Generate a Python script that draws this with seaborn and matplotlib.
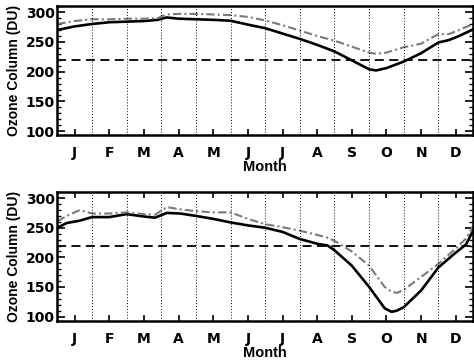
import matplotlib
matplotlib.use("Agg")
import matplotlib.pyplot as plt
import seaborn as sns
from matplotlib.ticker import MultipleLocator

# month letters (ticks sit at month centres)
months = ["J", "F", "M", "A", "M", "J", "J", "A", "S", "O", "N", "D"]

# upper panel (x in months since 1 Jan)
top_x = [0, 0.5, 1, 1.5, 2, 2.5, 2.9, 3.15, 3.5, 4, 4.5, 5, 5.5, 6, 6.5,
         7, 7.5, 8, 8.5, 9, 9.2, 9.5, 10, 10.5, 11, 11.3, 11.6, 12]
top_solid = [270, 276, 280, 283, 284, 285, 287, 291, 289, 288, 287, 285.5, 279, 273, 264,
             255, 245, 234, 219, 204, 202, 206, 217, 231, 249, 253, 260, 271]
top_dashdot = [280, 285, 288, 288, 289, 289, 290, 296, 297, 297, 296, 295, 292, 286, 278,
               269, 260, 252, 242, 232, 230, 232, 241, 247, 263, 263, 270, 280]

# lower panel
bot_x = [0, 0.27, 0.65, 1.0, 1.5, 2.0, 2.5, 2.82, 3.16, 3.55, 4, 4.5, 5, 5.5, 6, 6.5,
         7, 7.5, 7.8, 8, 8.5, 9, 9.45, 9.65, 9.8, 10, 10.5, 11, 11.5, 11.8, 12]
bot_solid = [250, 258, 262, 268, 268, 273, 269, 267, 275, 274, 270, 265, 259, 254, 250, 243,
             231, 223, 220, 212, 186, 150, 114, 108, 110, 116, 144, 183, 208, 222, 245]
bot_dashdot = [261, 270, 280, 274, 274, 276, 273, 272, 285, 281, 278, 276, 276, 265, 256, 251,
               245, 238, 233, 228, 210, 186, 150, 142, 140, 145, 167, 189, 215, 232, 253]

threshold = 220

sns.set_style("ticks")
plt.rcParams["font.family"] = ["DejaVu Sans"]
plt.rcParams["font.weight"] = "bold"
for key in ["axes.edgecolor", "xtick.color", "ytick.color", "axes.labelcolor", "text.color"]:
    plt.rcParams[key] = "black"

fig = plt.figure(figsize=(4.74, 3.62), dpi=100)
ax1 = fig.add_axes([0.121, 0.626, 0.877, 0.357])
ax2 = fig.add_axes([0.121, 0.114, 0.877, 0.355])

panels = [(ax1, top_x, top_solid, top_dashdot, False),
          (ax2, bot_x, bot_solid, bot_dashdot, True)]

for ax, xs, ys, yd, top_ticks in panels:
    sns.lineplot(x=xs, y=ys, ax=ax, color="black", lw=1.9)
    sns.lineplot(x=xs, y=yd, ax=ax, color="#7a7a7a", lw=1.5, linestyle=(0, (4, 1.5, 1, 1.5)))
    ax.axhline(threshold, color="black", lw=1.3, ls=(0, (5, 3)))
    for m in range(1, 12):
        ax.axvline(m, color="black", lw=0.7, ls=(0, (1, 2)))
    ax.set_xlim(0, 12)
    ax.set_ylim(93, 310)
    ax.set_xticks([m + 0.5 for m in range(12)])
    ax.set_xticklabels(months, fontsize=10, fontweight="bold")
    ax.yaxis.set_major_locator(MultipleLocator(50))
    ax.yaxis.set_minor_locator(MultipleLocator(10))
    ax.tick_params(axis="y", which="major", direction="in", length=6, width=1.2,
                   left=True, right=True, labelsize=10, pad=2)
    ax.tick_params(axis="y", which="minor", direction="in", length=3, width=1,
                   left=True, right=True)
    ax.tick_params(axis="x", direction="in", length=4, width=1.2, pad=8, top=top_ticks)
    for lab in ax.get_yticklabels():
        lab.set_fontweight("bold")
    for sp in ax.spines.values():
        sp.set_linewidth(1.8)
        sp.set_visible(True)
        sp.set_color("black")
    ax.set_xlabel("Month", fontsize=10.5, fontweight="bold", labelpad=0,
                  family=["Liberation Sans", "DejaVu Sans"])
    ax.set_ylabel("Ozone Column (DU)", fontsize=10, fontweight="bold", labelpad=3,
                  family=["Liberation Sans", "DejaVu Sans"])

fig.savefig("out.png", dpi=100)
